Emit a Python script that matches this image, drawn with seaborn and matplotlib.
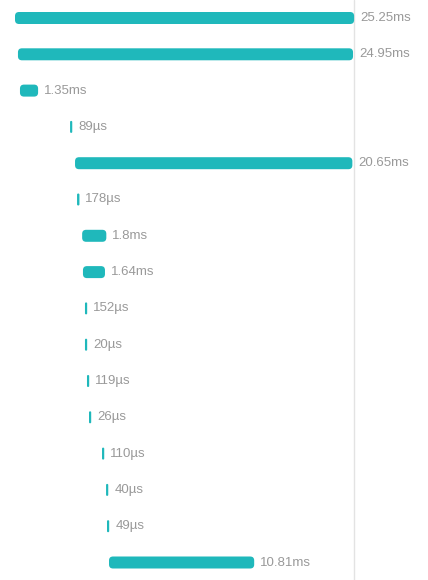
import matplotlib
matplotlib.use("Agg")
import matplotlib.pyplot as plt
import seaborn as sns
import pandas as pd
from matplotlib.patches import FancyBboxPatch

starts = [0, 0.22, 0.37, 4.1, 4.47, 4.62, 5.0, 5.06, 5.21, 5.21, 5.36, 5.51, 6.48, 6.78, 6.85, 7.0]
durations = [25.25, 24.95, 1.35, 0.089, 20.65, 0.178, 1.8, 1.64, 0.152, 0.020, 0.119, 0.026, 0.110, 0.040, 0.049, 10.81]
labels = ["25.25ms", "24.95ms", "1.35ms", "89µs", "20.65ms", "178µs", "1.8ms", "1.64ms",
          "152µs", "20µs", "119µs", "26µs", "110µs", "40µs", "49µs", "10.81ms"]

sns.set_style("white")
plt.rcParams['font.family'] = ['Liberation Sans', 'DejaVu Sans']
df = pd.DataFrame({"row": range(len(starts)), "start": starts, "dur": durations, "label": labels})
color = "#1fb8bb"
px_ms = 13.43
px_row = 36.3
minw = 2.2 / px_ms

fig = plt.figure(figsize=(4.28, 5.8), dpi=100)
ax = fig.add_axes([0, 0, 1, 1])
ax.set_xlim(-15 / px_ms, (428 - 15) / px_ms)
ax.set_ylim((580 - 18) / px_row, -18 / px_row)
ax.axvline(25.25, color="#e3e3e3", lw=1, zorder=0)

h = 12 / px_row
aspect = (1 / px_row) / (1 / px_ms)
for _, r in df.iterrows():
    w = max(r.dur, minw)
    rad = min(4 / px_ms, w / 2)
    p = FancyBboxPatch((r.start, r.row - h / 2), w, h,
                       boxstyle=f"round,pad=0,rounding_size={rad}",
                       mutation_aspect=aspect, fc=color, ec="none")
    ax.add_patch(p)
    ax.text(r.start + w + 6 / px_ms, r.row, r.label, va="center", ha="left",
            color="#999999", fontsize=9.5)
ax.axis("off")
fig.savefig("out.png", dpi=100)
